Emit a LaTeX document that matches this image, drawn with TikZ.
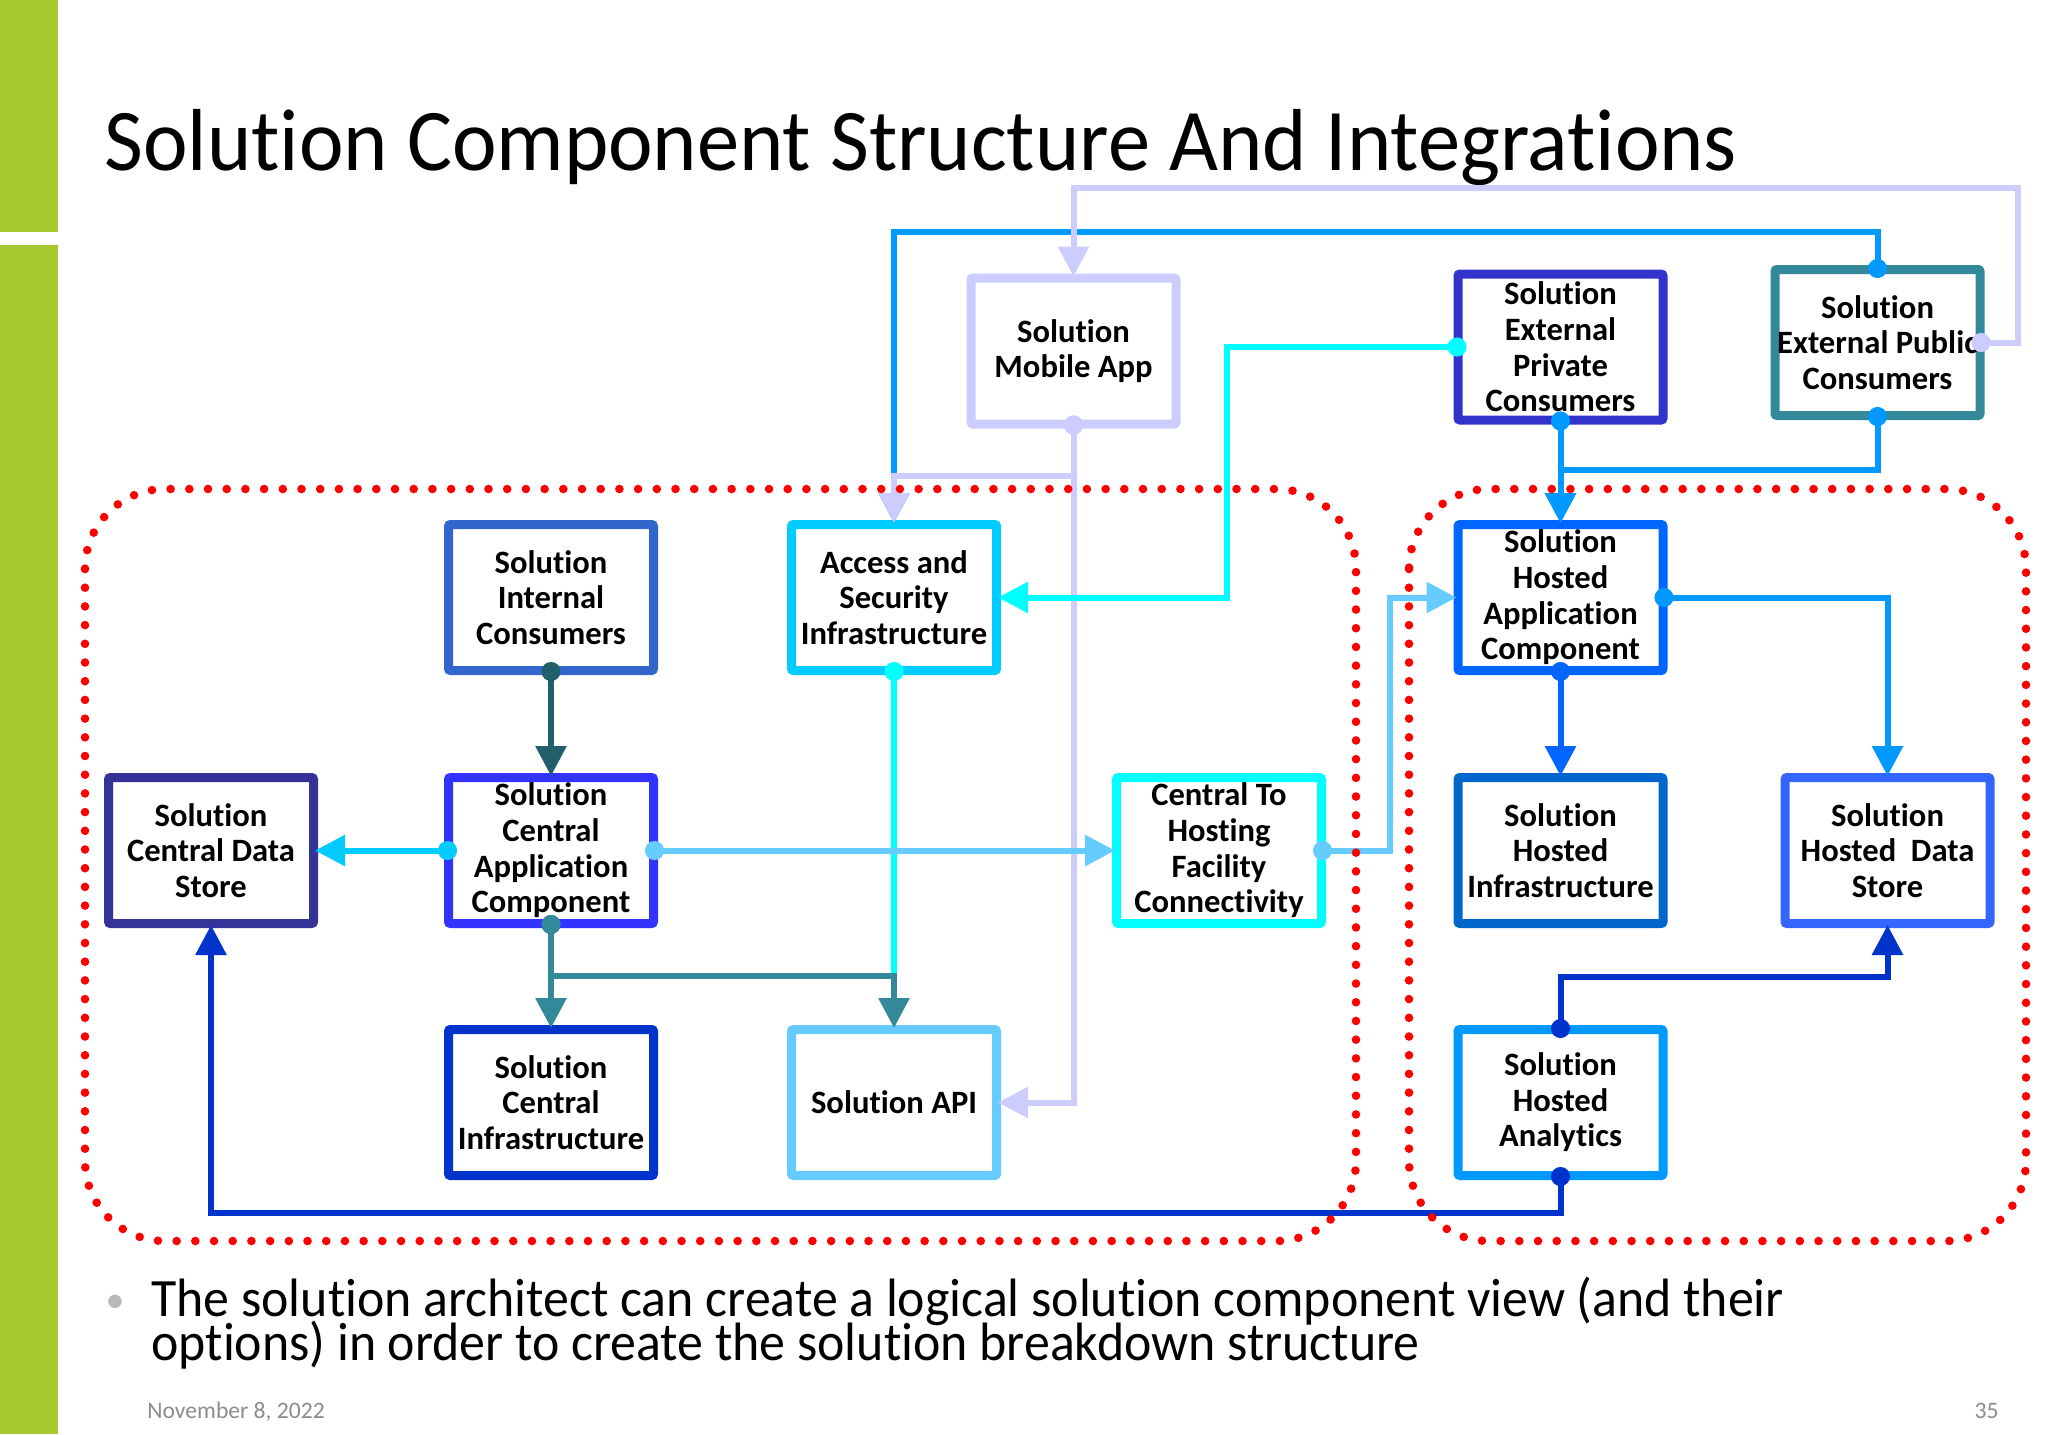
\documentclass[tikz,border=0pt]{standalone}
\usepackage{fontspec}
\setmainfont{Carlito}[Ligatures=NoCommon]
\newfontfamily\slidefont{Carlito}[Ligatures=NoCommon,FakeStretch=0.96]
\usetikzlibrary{arrows.meta,positioning,calc}
\definecolor{sidegreen}{HTML}{A8C832}
\definecolor{lavender}{HTML}{CCCCFF}
\definecolor{seablue}{HTML}{0099FF}
\definecolor{tealline}{HTML}{33899A}
\definecolor{darkteal}{HTML}{215F6A}
\definecolor{paleblue}{HTML}{66CCFF}
\definecolor{skyblue}{HTML}{00CCFF}
\definecolor{aqua}{HTML}{00FFFF}
\definecolor{royal}{HTML}{0033CC}
\definecolor{brightblue}{HTML}{0066FF}
\definecolor{internalblue}{HTML}{3366CC}
\definecolor{appblue}{HTML}{3333FF}
\definecolor{storeblue}{HTML}{333399}
\definecolor{infrablue}{HTML}{0066CC}
\definecolor{hostedblue}{HTML}{3366FF}
\definecolor{indigo}{HTML}{3333CC}
\tikzset{
    compbox/.style={
        rectangle,
        draw=#1,
        fill=white,
        line width=4.5pt,
        rounded corners=1pt,
        align=center,
        inner sep=0pt,
        minimum width=102.5pt,
        minimum height=73pt,
        font=\fontsize{16.3}{17.8}\selectfont\bfseries,
    },
    link/.style={
        draw=#1,
        line width=3pt,
        {Circle[length=9.5pt,width=9.5pt]}-{Triangle[length=15pt,width=15pt]},
        shorten <=-6.5pt,
        shorten >=-1.5pt,
    },
    plain link/.style={
        draw=#1,
        line width=3pt,
        {Circle[length=9.5pt,width=9.5pt]}-,
        shorten <=-6.5pt,
    },
    boundary/.style={
        draw=red,
        line width=4.3pt,
        line cap=round,
        dash pattern=on 0pt off 9.35pt,
        rounded corners=40pt,
    },
    footer/.style={
        text=black!45,
        font=\fontsize{11.8}{14}\selectfont,
        inner sep=0pt,
    },
}
\begin{document}
\begin{tikzpicture}[x=0.5pt,y=-0.5pt]
    \useasboundingbox (0,0) rectangle (2048,1434);
    % side bar
    \fill[sidegreen] (0,0) rectangle (57.5,232);
    \fill[sidegreen] (0,245) rectangle (57.5,1434);
    \node[anchor=base west,inner sep=0pt,font=\slidefont\fontsize{44}{50}\selectfont](title) at (104,170) {Solution Component Structure And Integrations};

    % boxes, central side
    \node[compbox=internalblue,at={(551,597.5)}](internal) {Solution\\Internal\\Consumers};
    \node[compbox=appblue,below=49pt of internal](centralapp) {Solution\\Central\\Application\\Component};
    \node[compbox=royal,below=48.5pt of centralapp](centralinfra) {Solution\\Central\\Infrastructure};
    \node[compbox=storeblue,left=63pt of centralapp](datastore) {Solution\\Central Data\\Store};
    \node[compbox=skyblue,right=64.5pt of internal](access) {Access and\\Security\\Infrastructure};
    \node[compbox=paleblue,below=175pt of access](api) {Solution API};
    \node[compbox=aqua,at={(1219,850.5)}](connect) {Central To\\Hosting\\Facility\\Connectivity};

    % boxes, hosted side
    \node[compbox=brightblue,at={(1560.5,597.5)}](hostedapp) {Solution\\Hosted\\Application\\Component};
    \node[compbox=infrablue,below=49pt of hostedapp](hostedinfra) {Solution\\Hosted\\Infrastructure};
    \node[compbox=seablue,below=48.5pt of hostedinfra](analytics) {Solution\\Hosted\\Analytics};
    \node[compbox=hostedblue,at={(1887.5,850.5)}](hosteddata) {Solution\\Hosted~ Data\\Store};

    % boxes, consumers on top
    \node[compbox=lavender,at={(1073.5,351)}](mobile) {Solution\\Mobile App};
    \node[compbox=indigo,at={(1560.5,347)}](private) {Solution\\External\\Private\\Consumers};
    \node[compbox=tealline,at={(1877.5,342.5)}](public) {Solution\\External Public\\Consumers};

    % connectors
    \draw[link=seablue] (public.north) -- ++(0,-33) -| (access.north);
    \draw[link=lavender] (public.east) -- ++(33,0) -- ++(0,-154.5) -| (mobile.north);
    \draw[link=lavender] (mobile.south) -- ++(0,47) -| (access.north);
    \draw[link=lavender] (mobile.south) |- (api.east);
    \draw[link=aqua] (private.west) -- ++(-227,0) |- (access.east);
    \draw[link=seablue] (public.south) -- ++(0,50) -| (hostedapp.north);
    \draw[link=seablue] (private.south) -- (hostedapp.north);
    \draw[link=seablue] (hostedapp.east) -| (hosteddata.north);
    \draw[link=brightblue] (hostedapp.south) -- (hostedinfra.north);
    \draw[link=darkteal] (internal.south) -- (centralapp.north);
    \draw[link=skyblue] (centralapp.west) -- (datastore.east);
    \draw[plain link=aqua] (access.south) -- ($(api.north)+(0,-47)$);
    \draw[link=paleblue] (centralapp.east) -- (connect.west);
    \draw[link=tealline] (centralapp.south) -- (centralinfra.north);
    \draw[link=tealline] (centralapp.south) -- ++(0,48) -| (api.north);
    \draw[link=paleblue] (connect.east) -- ++(64,0) |- (hostedapp.west);
    \draw[link=royal] (analytics.north) -- ++(0,-48) -| (hosteddata.south);
    \draw[link=royal] (analytics.south) -- ++(0,33) -| (datastore.south);

    % dotted groups
    \draw[boundary] (85,489) rectangle (1356,1241);
    \draw[boundary] (1409,489) rectangle (2026,1241);

    % text under the diagram
    \node[anchor=base,inner sep=0pt,text=black!28,font=\fontsize{19}{21}\selectfont](dot) at (115,1312) {•};
    \node[anchor=base west,inner sep=0pt,font=\slidefont\fontsize{27}{30}\selectfont](lineone) at (151,1316) {The solution architect can create a logical solution component view (and their};
    \node[anchor=base west,inner sep=0pt,font=\slidefont\fontsize{27}{30}\selectfont](linetwo) at (151,1360) {options) in order to create the solution breakdown structure};
    \node[footer,anchor=base west](date) at (147,1418) {November 8, 2022};
    \node[footer,anchor=base east](page) at (1999,1418) {35};
\end{tikzpicture}
\end{document}
